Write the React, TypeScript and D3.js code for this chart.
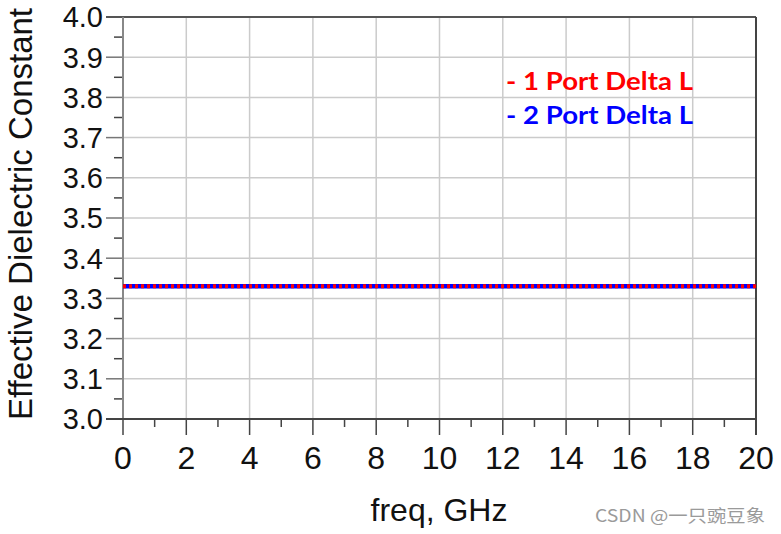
import React from "react";
import * as d3 from "d3";

const freqGHz = [0, 2, 4, 6, 8, 10, 12, 14, 16, 18, 20];
const series1PortDeltaL = [3.33, 3.33, 3.33, 3.33, 3.33, 3.33, 3.33, 3.33, 3.33, 3.33, 3.33];
const series2PortDeltaL = [3.33, 3.33, 3.33, 3.33, 3.33, 3.33, 3.33, 3.33, 3.33, 3.33, 3.33];
const xTicks = [0, 2, 4, 6, 8, 10, 12, 14, 16, 18, 20];
const xMinorTicks = [1, 3, 5, 7, 9, 11, 13, 15, 17, 19];
const yTicks = [3.0, 3.1, 3.2, 3.3, 3.4, 3.5, 3.6, 3.7, 3.8, 3.9, 4.0];
const yMinorTicks = [3.05, 3.15, 3.25, 3.35, 3.45, 3.55, 3.65, 3.75, 3.85, 3.95];
const legendLabels = ["- 1 Port Delta L", "- 2 Port Delta L"];
const xTitle = "freq, GHz";
const yTitle = "Effective Dielectric Constant";
const watermark = "CSDN @一只豌豆象";

const W = 781;
const H = 534;
const L = 123;
const R = 756;
const T = 17;
const B = 419;

export default function App() {
  const x = d3.scaleLinear().domain([0, 20]).range([L, R]);
  const y = d3.scaleLinear().domain([3.0, 4.0]).range([B, T]);
  const line = d3
    .line<number>()
    .x((_, i) => x(freqGHz[i]))
    .y((d) => y(d));
  const tickFont = "'Liberation Sans', Arial, sans-serif";
  return (
    <svg
      width={W}
      height={H}
      style={{ position: "absolute", left: 0, top: 0, background: "#fff" }}
    >
      {/* grid */}
      {xTicks.map((t) => (
        <line key={"gx" + t} x1={x(t)} x2={x(t)} y1={T} y2={B} stroke="#cbcbcb" strokeWidth={1.5} />
      ))}
      {yTicks.map((t) => (
        <line key={"gy" + t} x1={L} x2={R} y1={y(t)} y2={y(t)} stroke="#cbcbcb" strokeWidth={1.5} />
      ))}
      {/* y ticks */}
      {yTicks.map((t) => (
        <line key={"ty" + t} x1={106} x2={L} y1={y(t)} y2={y(t)} stroke="#777" strokeWidth={1.5} />
      ))}
      {yMinorTicks.map((t) => (
        <line key={"tym" + t} x1={114} x2={L} y1={y(t)} y2={y(t)} stroke="#444" strokeWidth={1.5} />
      ))}
      {/* x ticks */}
      {xTicks.map((t) => (
        <line key={"tx" + t} x1={x(t)} x2={x(t)} y1={B} y2={435} stroke="#444" strokeWidth={1.5} />
      ))}
      {xMinorTicks.map((t) => (
        <line key={"txm" + t} x1={x(t)} x2={x(t)} y1={B} y2={427} stroke="#444" strokeWidth={1.5} />
      ))}
      {/* frame */}
      <line x1={106} x2={R} y1={T} y2={T} stroke="#555" strokeWidth={2} />
      <line x1={L} x2={L} y1={T} y2={B} stroke="#888" strokeWidth={2} />
      <line x1={R} x2={R} y1={T} y2={435} stroke="#444" strokeWidth={2} />
      <line x1={106} x2={R} y1={B} y2={B} stroke="#444" strokeWidth={2} />
      {/* series */}
      <path d={line(series2PortDeltaL) || ""} fill="none" stroke="#0000ff" strokeWidth={4.5} />
      <path
        d={line(series1PortDeltaL) || ""}
        fill="none"
        stroke="#ff0000"
        strokeWidth={4}
        strokeDasharray="3,3"
      />
      {/* tick labels */}
      {yTicks.map((t) => (
        <text
          key={"ly" + t}
          x={103}
          y={y(t)}
          dy="0.36em"
          textAnchor="end"
          fontFamily={tickFont}
          fontSize={29}
          fill="#111"
        >
          {d3.format(".1f")(t)}
        </text>
      ))}
      {xTicks.map((t) => (
        <text
          key={"lx" + t}
          x={x(t)}
          y={469}
          textAnchor="middle"
          fontFamily={tickFont}
          fontSize={32}
          fill="#111"
        >
          {t}
        </text>
      ))}
      {/* titles */}
      <text x={439} y={521} textAnchor="middle" fontFamily={tickFont} fontSize={32} fill="#111">
        {xTitle}
      </text>
      <text
        transform={`translate(32,214) rotate(-90)`}
        textAnchor="middle"
        fontFamily={tickFont}
        fontSize={33}
        fill="#111"
      >
        {yTitle}
      </text>
      {/* legend */}
      <text
        x={506}
        y={90}
        fontFamily="Lato, 'Open Sans', sans-serif"
        fontWeight="bold"
        fontSize={24}
        fill="#ff0000"
        textLength={187}
        lengthAdjust="spacingAndGlyphs"
      >
        {legendLabels[0]}
      </text>
      <text
        x={506}
        y={124}
        fontFamily="Lato, 'Open Sans', sans-serif"
        fontWeight="bold"
        fontSize={24}
        fill="#0000ff"
        textLength={187}
        lengthAdjust="spacingAndGlyphs"
      >
        {legendLabels[1]}
      </text>
      {/* watermark */}
      <text
        x={595}
        y={522}
        fontFamily="'Noto Sans CJK SC', 'Noto Sans', sans-serif"
        fontSize={17}
        fill="#9a9a9a"
        textLength={170}
        lengthAdjust="spacingAndGlyphs"
      >
        {watermark}
      </text>
    </svg>
  );
}
